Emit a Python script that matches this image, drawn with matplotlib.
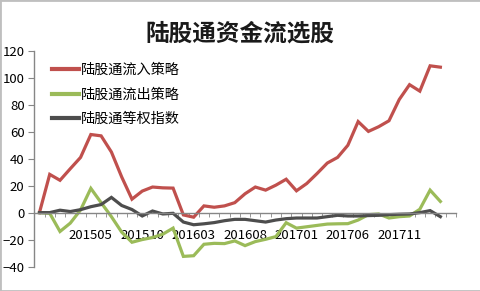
import matplotlib
matplotlib.use('Agg')
import matplotlib.pyplot as plt
from matplotlib.patches import Rectangle

plt.rcParams['font.family'] = ['Noto Sans CJK SC', 'DejaVu Sans']

months = ['201412', '201501', '201502', '201503', '201504', '201505', '201506', '201507',
          '201508', '201509', '201510', '201511', '201512', '201601', '201602', '201603',
          '201604', '201605', '201606', '201607', '201608', '201609', '201610', '201611',
          '201612', '201701', '201702', '201703', '201704', '201705', '201706', '201707',
          '201708', '201709', '201710', '201711', '201712', '201801', '201802', '201803']

inflow = [0, 28.4, 24, 32.6, 41, 58, 57, 45, 26.5, 10, 16, 19, 18.4, 18.2, -1.7, -3.4,
          5, 4, 5, 7.4, 14, 19, 16.7, 20.4, 24.8, 16.2, 21.6, 29, 36.8, 41,
          50, 67.6, 60.3, 63.8, 68.2, 84, 95, 90.2, 109, 108]
outflow = [0, -0.5, -14, -7.8, 2, 18, 7.4, -3, -14.5, -22, -20, -18.5, -16, -11.5, -32.5, -32,
           -23.5, -22.8, -23, -21, -24.5, -21.5, -19.8, -17.8, -7.5, -11.5, -10.5, -9.5, -8.5, -8.3,
           -8.2, -5.5, -1.5, -1, -4, -3, -2.5, 2.5, 16.7, 8.3]
equal_w = [0, 0, 1.8, 0.8, 2.2, 4.4, 6, 11.3, 5.3, 2.3, -2.5, 1.2, -1, -0.5, -7, -9,
           -8.3, -7.4, -6, -5, -5, -6, -7, -5.5, -4.5, -4, -4, -4, -3, -2,
           -2.5, -2.5, -2.2, -2, -1.5, -1.2, -1, 0, 1.5, -3]

names = ['陆股通流入策略', '陆股通流出策略', '陆股通等权指数']
colors = ['#C0504D', '#9BBB59', '#4D4D4D']
tick_months = ['201505', '201510', '201603', '201608', '201701', '201706', '201711']

fig = plt.figure(figsize=(4.81, 2.91), dpi=100)
ax = fig.add_axes([34.3 / 481, 1 - 266.5 / 291, (455.8 - 34.3) / 481, (266.5 - 51) / 291])

x = list(range(len(months)))
for ys, nm, c in zip([inflow, outflow, equal_w], names, colors):
    ax.plot(x, ys, color=c, lw=2.3, label=nm, solid_joinstyle='miter')

ax.set_xlim(-0.5, len(months) + 0.5)
ax.set_ylim(-40, 120)
ax.set_yticks(range(-40, 121, 20))
ax.tick_params(axis='y', labelsize=9.5, length=4, color='#868686', pad=3)

ax.set_xticks([months.index(m) for m in tick_months])
ax.set_xticklabels(tick_months)
ax.set_xticks([i - 0.5 for i in range(len(months) + 2)], minor=True)
ax.tick_params(axis='x', which='major', length=0, labelsize=9.5, pad=12)
ax.tick_params(axis='x', which='minor', length=3, color='#868686', direction='out')

ax.spines['top'].set_visible(False)
ax.spines['right'].set_visible(False)
ax.spines['bottom'].set_position(('data', 0))
for s in ['left', 'bottom']:
    ax.spines[s].set_color('#868686')
    ax.spines[s].set_linewidth(1)

leg = ax.legend(loc='upper left', bbox_to_anchor=(52 / 481, 1 - 63 / 291),
                bbox_transform=fig.transFigure, frameon=False, fontsize=10.2,
                handlelength=1.9, handletextpad=0.15, labelspacing=0.75,
                borderpad=0, borderaxespad=0)
for h in leg.get_lines():
    h.set_linewidth(3)

fig.text(0.499, 1 - 33 / 291, '陆股通资金流选股', ha='center', va='center',
         fontsize=17, fontweight='bold', color='#1a1a1a')

fig.patches.append(Rectangle((0, 0), 1, 1, transform=fig.transFigure, fill=False,
                             edgecolor='#BFBFBF', lw=2))

fig.savefig('out.png', dpi=100)
